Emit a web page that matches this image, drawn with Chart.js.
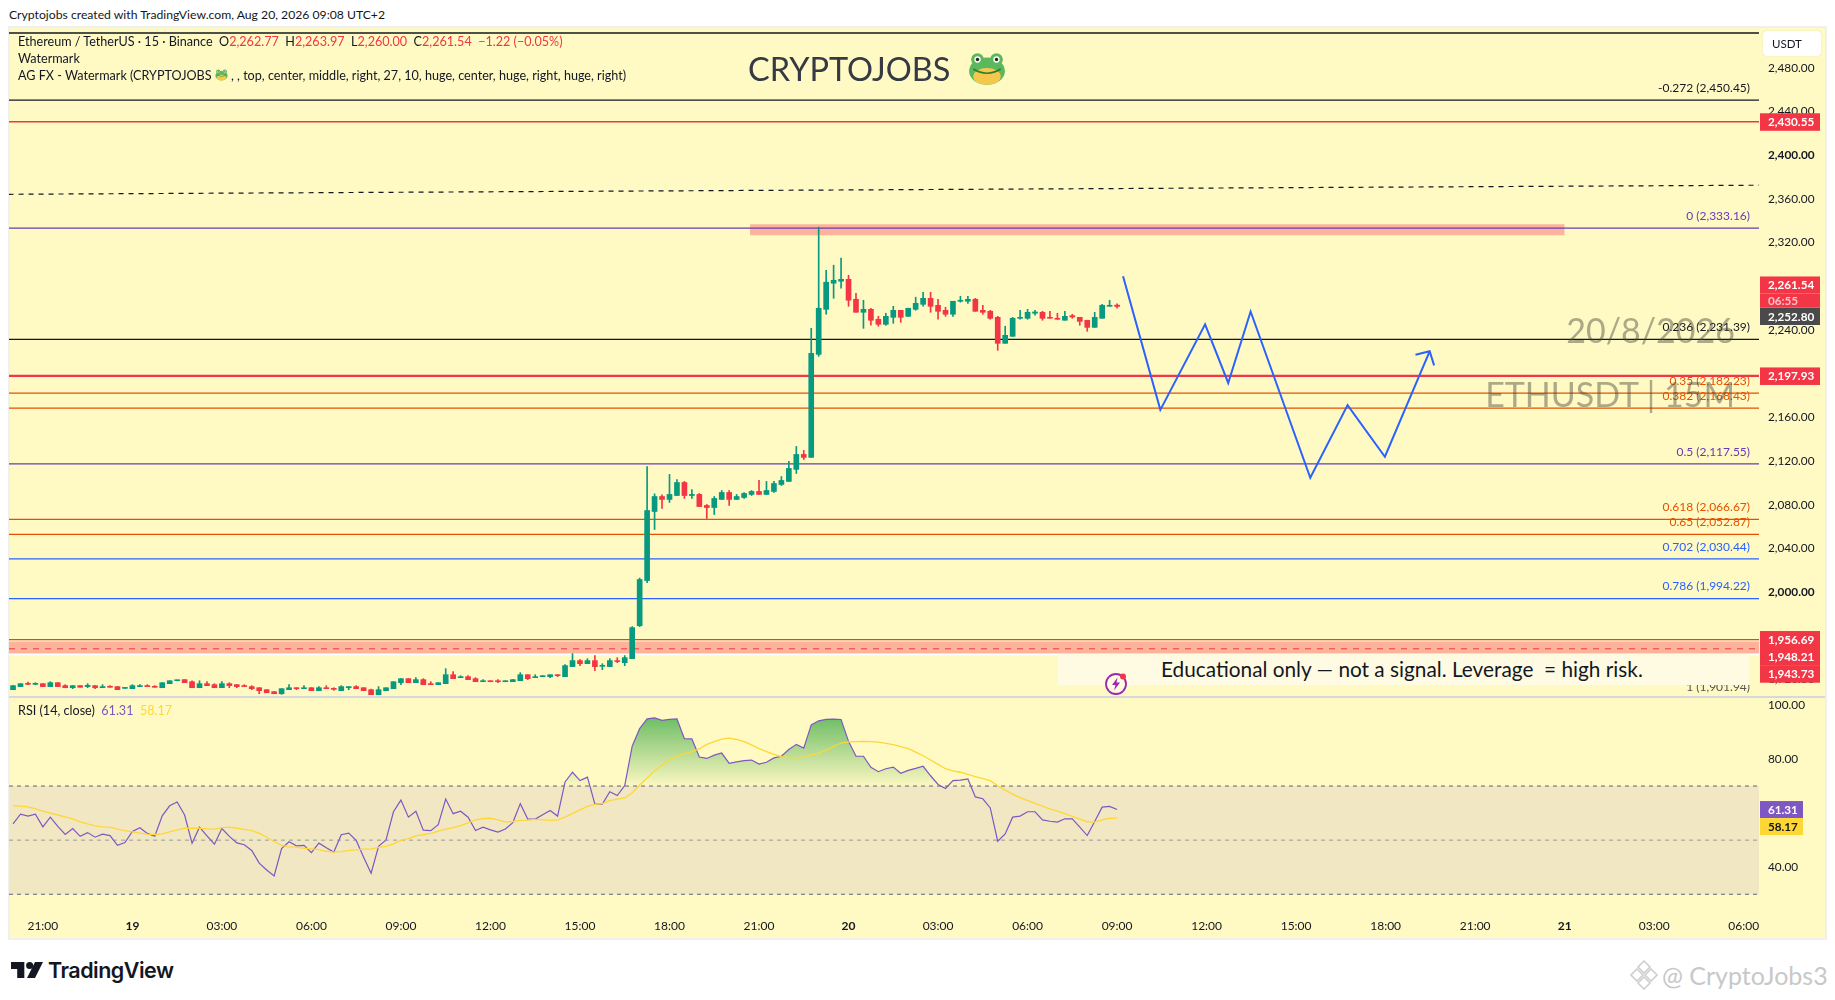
<!DOCTYPE html>
<html>
<head>
<meta charset="utf-8">
<title>ETHUSDT 15M</title>
<script src="https://cdn.jsdelivr.net/npm/chart.js@4"></script>
<style>
body { margin: 0; background: #fff; font-family: Lato, sans-serif; color: #131722; }
#page { position: relative; width: 1835px; height: 1000px; overflow: hidden; }
.abs { position: absolute; white-space: pre; }
#frame { position: absolute; left: 8px; top: 26px; width: 1815px; height: 910px; background: #fff9c4; border: 2px solid #f0f0ee; }
.chart-box { position: absolute; left: 9px; width: 1816px; }
.leg { font-size: 12.6px; left: 18px; line-height: 16px; }
.red { color: #f23645; }
.wm { font-size: 34px; color: rgba(70, 70, 60, 0.45); text-align: right; right: 100px; line-height: 40px; }
</style>
</head>
<body>
<div id="page">
  <svg width="0" height="0" style="position:absolute">
    <symbol id="frog" viewBox="0 0 36 32">
      <ellipse cx="18" cy="18" rx="17" ry="13" fill="#5cb85c"/>
      <circle cx="9" cy="7" r="6" fill="#5cb85c"/><circle cx="27" cy="7" r="6" fill="#5cb85c"/>
      <circle cx="9" cy="7" r="3" fill="#fff"/><circle cx="27" cy="7" r="3" fill="#fff"/>
      <circle cx="9" cy="7" r="1.6" fill="#222"/><circle cx="27" cy="7" r="1.6" fill="#222"/>
      <ellipse cx="18" cy="23" rx="13" ry="8" fill="#f5c84c"/>
      <path d="M5 16 Q18 24 31 16" stroke="#2e7d32" stroke-width="1.4" fill="none"/>
    </symbol>
  </svg>
  <div class="abs" style="left:9px;top:7px;font-size:12.2px;line-height:16px">Cryptojobs created with TradingView.com, Aug 20, 2026 09:08 UTC+2</div>
  <div id="frame"></div>
  <div class="chart-box" style="top:27px;height:670px"><canvas id="priceChart"></canvas></div>
  <div class="chart-box" style="top:697px;height:242px"><canvas id="rsiChart"></canvas></div>
  <div class="abs" style="left:9px;top:696px;width:1816px;height:2px;background:#d6d8de"></div>

  <div class="abs leg" style="top:34px">Ethereum / TetherUS · 15 · Binance  O<span class="red">2,262.77</span>  H<span class="red">2,263.97</span>  L<span class="red">2,260.00</span>  C<span class="red">2,261.54</span>  <span class="red">−1.22 (−0.05%)</span></div>
  <div class="abs leg" style="top:51px">Watermark</div>
  <div class="abs leg" style="top:68px">AG FX - Watermark (CRYPTOJOBS <svg width="13" height="12" style="vertical-align:-1px"><use href="#frog"/></svg> , , top, center, middle, right, 27, 10, huge, center, huge, right, huge, right)</div>

  <div class="abs" style="left:748px;top:48px;font-size:32.5px;line-height:42px;color:#363a45">CRYPTOJOBS</div>
  <svg class="abs" style="left:968px;top:51px" width="38" height="36"><use href="#frog"/></svg>

  <div class="abs wm" style="top:310px">20/8/2026</div>
  <div class="abs wm" style="top:374px">ETHUSDT | 15M</div>

  <div class="abs" style="left:1058px;top:654px;width:691px;height:31px;background:#fffbe3"></div>
  <div class="abs" style="left:1161px;top:655px;font-size:20.8px;line-height:28px;color:#131722">Educational only — not a signal. Leverage  = high risk.</div>
  <svg class="abs" style="left:1103px;top:670px" width="26" height="28" viewBox="0 0 26 28">
    <circle cx="13" cy="14" r="10" fill="#fffbe3" stroke="#9c27b0" stroke-width="1.8"/>
    <path d="M14.5 7.5 L9 15 H12.5 L11 20.5 L17 12.5 H13.5 Z" fill="#9c27b0"/>
    <circle cx="20" cy="6.5" r="3" fill="#f23645"/>
  </svg>

  <div class="abs" style="left:1763px;top:31px;width:58px;height:25px;background:#fff;border-radius:4px;font-size:11.5px;line-height:25px;text-indent:9px;box-shadow:0 0 1px #ccc">USDT</div>

  <svg class="abs" style="left:11px;top:961px" width="32" height="18" viewBox="0 0 36 20">
    <path d="M0 1 H15 V19 H7 V9 H0 Z" fill="#131722"/>
    <circle cx="21" cy="5" r="4" fill="#131722"/>
    <path d="M27 1 H36 L27 19 H18 Z" fill="#131722"/>
  </svg>
  <div class="abs" style="left:48px;top:956px;font-size:21.5px;line-height:28px;font-family:Inter,sans-serif;font-weight:600;letter-spacing:-0.5px">TradingView</div>

  <svg class="abs" style="left:1630px;top:960px" width="28" height="30" viewBox="0 0 28 30" fill="none" stroke="#cfcfcf" stroke-width="1.6">
    <path d="M14 1 L20 7 L14 13 L8 7 Z"/><path d="M7 9 L13 15 L7 21 L1 15 Z"/><path d="M21 9 L27 15 L21 21 L15 15 Z"/><path d="M14 17 L20 23 L14 29 L8 23 Z"/>
  </svg>
  <div class="abs" style="left:1662px;top:960px;font-size:25px;line-height:30px;color:#c8c8c8">@ CryptoJobs3</div>
  <div class="abs" style="left:18px;top:703px;font-size:12.6px;line-height:16px">RSI (14, close)  <span style="color:#7e57c2">61.31</span>  <span style="color:#fdd835">58.17</span></div>
</div>

<script>
const FONT = 'Lato, sans-serif';

// velas de 15 min, da esquerda para a direita (ultima = 09:00 do dia 20)
const opens = [
  1910.8, 1913.6, 1916.6, 1915.7, 1916.3, 1913.6, 1917.2, 1914.5, 1912.6, 1914.5,
  1913.6, 1914.5, 1912.6, 1913.6, 1913.6, 1912, 1911.7, 1913.6, 1914.5, 1913.6,
  1912.6, 1916.3, 1919, 1920, 1918.1, 1912.6, 1916.3, 1915.4, 1912.6, 1916.3,
  1915.4, 1914.5, 1913.6, 1912.6, 1910.8, 1909, 1907.1, 1910.8, 1912.6, 1911.7,
  1912.6, 1909.9, 1912.6, 1912, 1909.9, 1912.6, 1913.6, 1912.6, 1910.8, 1906.2,
  1909.9, 1911.7, 1917.2, 1920.9, 1917.2, 1920, 1916.3, 1915.4, 1916.3, 1924.5,
  1921.8, 1922.7, 1920.9, 1918.1, 1919, 1919, 1918.1, 1918.1, 1919, 1924.5,
  1921.8, 1922.7, 1922.7, 1924.5, 1922.7, 1931.9, 1937.4, 1934.6, 1937.4, 1932.2,
  1931.9, 1937.4, 1935.5, 1939.2, 1969.4, 2010.7, 2073.9, 2087.6, 2084.9, 2088.5,
  2100.4, 2088.5, 2089.5, 2079.4, 2077.5, 2084.9, 2091.3, 2084.9, 2086.7, 2089.5,
  2092.2, 2089.5, 2092.2, 2098.6, 2101.4, 2112.4, 2126.1, 2123.4, 2217.7, 2258.9,
  2282.8, 2284.6, 2286.4, 2268.1, 2256.2, 2258.9, 2249.8, 2245.2, 2251.6, 2258,
  2252.5, 2258.9, 2263.5, 2269, 2262.6, 2258, 2254.4, 2266.3, 2266.3, 2268.1,
  2258, 2257.1, 2251.6, 2227.8, 2234.2, 2250.7, 2250.7, 2255.3, 2256.2, 2251.6,
  2250.7, 2248.9, 2253.1, 2251.6, 2248.9, 2242.4, 2250.7, 2261.7, 2262.77
];
const highs = [
  1914.5, 1916.3, 1917.8, 1917.2, 1916.3, 1918.1, 1917.2, 1915.4, 1914.5, 1914.5,
  1916.3, 1914.5, 1915.4, 1914.5, 1913.6, 1912.6, 1915.4, 1915.4, 1915.4, 1914.5,
  1917.2, 1919, 1919.6, 1920, 1919, 1919, 1918.1, 1916.3, 1918.1, 1917.2,
  1915.4, 1915.4, 1914.5, 1912.6, 1910.8, 1909, 1911.7, 1915.4, 1912.6, 1914.5,
  1912.6, 1913.6, 1914.5, 1912.6, 1914.5, 1913.6, 1914.5, 1912.6, 1911.4, 1913.6,
  1912.6, 1918.1, 1920.9, 1920.9, 1921.8, 1920.9, 1918.1, 1917.2, 1930, 1927.3,
  1923.6, 1923.6, 1921.8, 1920, 1919, 1920, 1919, 1920, 1926.4, 1924.5,
  1924.5, 1923.6, 1924.5, 1924.5, 1933.7, 1943.8, 1938.3, 1939.2, 1942, 1934.6,
  1939.2, 1940.1, 1942, 1968.5, 2013, 2115.1, 2090, 2089.2, 2107.8, 2103.2,
  2101.4, 2094, 2090.4, 2080.3, 2087.6, 2093.1, 2093.1, 2089.5, 2091.3, 2093.1,
  2102.3, 2101.4, 2101.4, 2105.9, 2119.7, 2133.4, 2129.8, 2241.5, 2334.1, 2294.7,
  2299.3, 2305.7, 2290.1, 2273.6, 2267.2, 2259.9, 2252.5, 2255.3, 2261.7, 2258,
  2259.9, 2270, 2274.5, 2274.5, 2268.1, 2260.8, 2266.3, 2270.9, 2270.9, 2269,
  2262.6, 2258, 2252.5, 2243.4, 2251.6, 2258, 2258.9, 2258, 2257.1, 2257.1,
  2255.3, 2257.1, 2254.4, 2251.6, 2248.9, 2256.2, 2263.5, 2267.2, 2263.97
];
const lows = [
  1910.8, 1913.6, 1915.4, 1915.4, 1913.6, 1913.6, 1913.6, 1912.6, 1911.7, 1913,
  1912.6, 1911.7, 1912.6, 1913, 1910.8, 1912, 1911.7, 1913.6, 1913.6, 1913,
  1912.6, 1916.3, 1919, 1917.2, 1912.6, 1912.6, 1914.5, 1912.6, 1912.6, 1912.6,
  1912.6, 1913.6, 1910.8, 1907.1, 1908, 1907.1, 1906.5, 1910.8, 1910.8, 1911.7,
  1909.9, 1909.9, 1911.7, 1910.2, 1909.9, 1910.8, 1911.7, 1909.9, 1906.2, 1906.2,
  1909.9, 1911.7, 1915.4, 1917.2, 1917.2, 1915.4, 1915.4, 1915.4, 1916.3, 1920.9,
  1921.8, 1920, 1918.1, 1918.1, 1918.1, 1917.2, 1918.1, 1918.1, 1919, 1920,
  1921.8, 1922.7, 1921.8, 1922.7, 1922.7, 1931.9, 1932.8, 1934.6, 1928.2, 1929.1,
  1931.9, 1935.5, 1932.8, 1939.2, 1968.5, 2008.8, 2057.4, 2076.6, 2082.1, 2088.5,
  2085.8, 2085.8, 2078.4, 2067.5, 2071.1, 2084.9, 2079.4, 2084.9, 2085.8, 2088.5,
  2089.5, 2089.5, 2091.3, 2097.7, 2101.4, 2108.7, 2121.5, 2123.4, 2215.9, 2254.4,
  2269, 2278.2, 2261.7, 2256.2, 2241.5, 2244.3, 2243.4, 2244.3, 2246.1, 2247,
  2252.5, 2258, 2261.7, 2256.2, 2249.8, 2252.5, 2252.5, 2265.4, 2264.4, 2257.1,
  2254.4, 2249.8, 2221.4, 2227.8, 2234.2, 2249.8, 2249.8, 2253.5, 2248.9, 2250.7,
  2249.8, 2248.9, 2250.7, 2244.3, 2238.8, 2242.4, 2250.7, 2261.7, 2260
];
const closes = [
  1914.5, 1916.3, 1915.7, 1916.6, 1913.6, 1917.2, 1913.6, 1912.6, 1914.5, 1913,
  1914.8, 1912.6, 1913.6, 1913, 1910.8, 1912.6, 1914.5, 1914.5, 1913.6, 1913,
  1917.2, 1919, 1919.6, 1917.2, 1912.6, 1916.3, 1914.5, 1912.6, 1916.3, 1914.5,
  1913.6, 1913.6, 1911.7, 1909.9, 1908, 1907.1, 1911.7, 1912.6, 1911.7, 1912.6,
  1909.9, 1912.6, 1911.7, 1911.1, 1913.6, 1913.6, 1911.7, 1909.9, 1906.2, 1910.8,
  1912.6, 1918.1, 1920.9, 1917.2, 1920, 1915.4, 1915.4, 1917.2, 1924.5, 1920.9,
  1922.7, 1920, 1918.1, 1919, 1918.1, 1918.1, 1919, 1920, 1924.5, 1920.9,
  1922.7, 1923.6, 1924.5, 1923.6, 1932.8, 1937.4, 1934.6, 1937.4, 1931.9, 1933.1,
  1937.4, 1936.5, 1940.1, 1967.6, 2011.6, 2074.8, 2087.6, 2084.9, 2089.5, 2100.4,
  2088.5, 2089.5, 2078.4, 2077.5, 2085.8, 2091.3, 2084.9, 2087.6, 2090.4, 2092.2,
  2089.5, 2093.1, 2099.5, 2102.3, 2113.3, 2126.1, 2123.4, 2218.6, 2259.9, 2283.7,
  2285.5, 2286.4, 2267.2, 2256.2, 2258.9, 2248.9, 2245.2, 2252.5, 2258, 2251.6,
  2259.9, 2264.4, 2269, 2261.7, 2257.1, 2254.4, 2266.3, 2267.2, 2268.1, 2257.1,
  2256.2, 2250.7, 2227.8, 2235.1, 2250.7, 2251.6, 2256.2, 2256.5, 2250.7, 2250.7,
  2249.8, 2252.5, 2251.9, 2247.9, 2242.4, 2251.6, 2262.6, 2262.6, 2261.54
];

const rsiValues = [
  56, 59.6, 58.9, 59.6, 54.9, 58.5, 55.1, 52.1, 54.3, 51.4,
  52.8, 51.1, 52.2, 51.7, 48.1, 49.1, 53.2, 54.6, 52.5, 51.5,
  59, 62.7, 64.1, 59.3, 48.9, 54.8, 51.6, 48.5, 54.3, 51.4,
  49, 48.3, 46.2, 41.5, 39, 36.8, 46.9, 49.4, 47.9, 48.1,
  45.4, 48.9, 47.2, 45.6, 52, 52.6, 49.9, 43.7, 37.8, 47.7,
  50.1, 60.5, 64.8, 58.5, 60.7, 53.7, 53.5, 55.7, 65.2, 59.8,
  60.7, 58.5, 53.6, 54.8, 53.8, 53, 54.1, 56.5, 63.5, 57.8,
  57.8, 59.4, 61, 58.9, 71.5, 75.1, 72, 73.3, 63.3, 63.3,
  67.9, 66.5, 70.2, 84.7, 91.2, 94.8, 95.2, 94.3, 94.6, 94.8,
  87.5, 87.4, 80.7, 80.2, 81.4, 82.2, 78.4, 78.9, 79.4, 79.6,
  78.1, 78.8, 80.4, 81, 83.5, 85.4, 84, 92.6, 94.1, 94.6,
  94.7, 94.6, 86.5, 81, 81, 76.9, 75.3, 76.4, 77, 74.7,
  75.8, 76.5, 77.3, 73.8, 70.6, 69.1, 72, 72.2, 72.6, 66,
  65.3, 61.9, 49.6, 52.3, 58.5, 58.9, 60.5, 60.5, 57.5, 57,
  56.7, 57.9, 57.9, 54.8, 51.7, 56.9, 62.2, 62.5, 61.31
];
const rsiMa = [
  62.7, 62.6, 62.3, 61.6, 60.7, 60, 59.3, 58.6, 57.9, 56.8,
  56, 55.3, 54.9, 54.8, 54.1, 53.5, 53.1, 52.6, 52.2, 52.1,
  52.3, 53.1, 53.8, 54.4, 54.4, 54.4, 54.2, 54.1, 54.6, 54.8,
  54.4, 54, 53.5, 52.6, 51.1, 49.5, 48.1, 47.5, 47.4, 47,
  46.8, 46.5, 45.9, 45.6, 45.8, 46.2, 46.4, 46.7, 46.7, 47.3,
  47.7, 48.6, 49.9, 50.6, 51.6, 52, 52.5, 53.3, 54.1, 54.6,
  55.4, 56.4, 57.5, 58, 58.1, 57.5, 56.7, 56.9, 57.3, 57.4,
  57.7, 57.5, 57.3, 57.5, 58.5, 59.9, 61.2, 62.5, 63.2, 63.5,
  64.6, 65.2, 65.6, 67.5, 70.4, 73, 75.6, 77.8, 79.8, 81,
  82, 82.7, 83.7, 85.4, 86.4, 87.3, 87.7, 87.2, 86.4, 85.2,
  83.8, 82.7, 81.7, 80.9, 80.5, 80.4, 80.7, 81.5, 82.2, 83.3,
  84.6, 85.9, 86.3, 86.4, 86.5, 86.4, 86.2, 85.8, 85.3, 84.6,
  83.8, 82.5, 81.2, 79.6, 78, 76.4, 75.6, 75.1, 74.3, 73.5,
  72.7, 72, 70.1, 68.5, 67, 65.7, 64.6, 63.6, 62.6, 61.6,
  60.7, 59.8, 58.8, 57.8, 56.8, 56.7, 57.5, 58.1, 58.17
];

const timeTickBars = [4, 16, 28, 40, 52, 64, 76, 88, 100, 112, 124, 136, 148, 160, 172, 184, 196, 208, 220, 232];
const timeTickLabels = ['21:00', '19', '03:00', '06:00', '09:00', '12:00', '15:00', '18:00', '21:00', '20', '03:00', '06:00', '09:00', '12:00', '15:00', '18:00', '21:00', '21', '03:00', '06:00'];
const priceTicks = [2480, 2440, 2400, 2360, 2320, 2240, 2160, 2120, 2080, 2040, 2000, 1960, 1920];
const rsiTicks = [100, 80, 60, 40];

// niveis de fibonacci: razao, preco, cor
const fibRatios = ['-0.272', '0', '0.236', '0.35', '0.382', '0.5', '0.618', '0.65', '0.702', '0.786', '1'];
const fibPrices = [2450.45, 2333.16, 2231.39, 2182.23, 2168.43, 2117.55, 2066.67, 2052.87, 2030.44, 1994.22, 1901.94];
const fibColors = ['#131722', '#673ab7', '#131722', '#e65100', '#e65100', '#673ab7', '#e65100', '#e65100', '#2962ff', '#2962ff', '#555555'];

const topLinePrice = 2511.8;
const redLevels = [2430.55, 2197.93, 1956.69];
const trendBars = [-0.6, 234.1];
const trendPrices = [2364.2, 2372.5];
const forecastBars = [148.8, 153.8, 159.8, 162.9, 165.9, 173.9, 178.9, 183.9, 189.9];
const forecastPrices = [2289.1, 2166.9, 2245.2, 2191.5, 2256.9, 2104.7, 2171.2, 2124, 2220.5];
const arrowBars = [188, 189.9, 190.5];
const arrowPrices = [2217.3, 2220.5, 2207.6];

// limites dos eixos
const barMin = -0.54, barMax = 234.05;
const priceMin = 1904.1, priceMax = 2517.3;
const rsiMin = 24.2, rsiMax = 102.9;

const GREEN = '#089981', RED = '#f23645';
const AXIS_WIDTH = 66;
const LEVEL_WIDTH = 1.3;

function hLine(y, color, width, dash, from, to) {
    return {
        type: 'line',
        data: [{ x: from ?? barMin, y: y }, { x: to ?? barMax, y: y }],
        borderColor: color,
        borderWidth: width,
        borderDash: dash || [],
        pointRadius: 0,
        order: 5
    };
}

function zone(top, bottom, color, from, to) {
    return {
        type: 'line',
        data: [{ x: from ?? barMin, y: top }, { x: to ?? barMax, y: top }],
        borderWidth: 0,
        backgroundColor: color,
        fill: { target: { value: bottom } },
        pointRadius: 0,
        order: 6
    };
}

function path(xs, ys, color, width, order, dash) {
    return {
        type: 'line',
        data: xs.map((x, i) => ({ x: x, y: ys[i] })),
        borderColor: color,
        borderWidth: width,
        borderDash: dash || [],
        pointRadius: 0,
        tension: 0,
        order: order
    };
}

const candleColors = closes.map((c, i) => c >= opens[i] ? GREEN : RED);

const wicks = {
    type: 'bar',
    data: highs.map((h, i) => ({ x: i, y: [lows[i], h] })),
    backgroundColor: candleColors,
    barThickness: 1,
    grouped: false,
    order: 2
};
const bodies = {
    type: 'bar',
    data: opens.map((o, i) => ({ x: i, y: [Math.min(o, closes[i]), Math.max(o, closes[i])] })),
    backgroundColor: candleColors,
    barThickness: 5,
    minBarLength: 1,
    grouped: false,
    order: 1
};

const priceDatasets = [
    zone(2336.8, 2326.7, '#fdb399', 98.8, 208),
    zone(1954.8, 1944, '#fdb399'),
    hLine(1943, '#ffffff', 1.5),
    hLine(topLinePrice, '#131722', LEVEL_WIDTH),
    hLine(1948.21, RED, 1, [6, 6]),
    path(trendBars, trendPrices, '#131722', 1.2, 5, [5, 5]),
    wicks,
    bodies,
    path(forecastBars, forecastPrices, '#2962ff', 2, 0),
    path(arrowBars, arrowPrices, '#2962ff', 2, 0)
];
redLevels.forEach((p, i) => priceDatasets.push(hLine(p, RED, [1.6, 2.2, 1.2][i])));
fibPrices.slice(0, 10).forEach((p, i) => priceDatasets.push(hLine(p, fibColors[i], LEVEL_WIDTH)));

// etiquetas do eixo de preco: valor, deslocamento, cor de fundo
const tagValues = [2430.55, 2197.93, 2252.80, 1956.69, 1948.21, 1943.73];
const tagShift = [0, 0, 0, 0, 7.7, 20];
const tagColors = [RED, RED, '#4a4a4a', RED, RED, RED];

function money(v) {
    return v.toLocaleString('en-US', { minimumFractionDigits: 2, maximumFractionDigits: 2 });
}

// sem margem extra dos rotulos: a area do grafico vai de ponta a ponta
function noPadding(s) {
    s.paddingTop = 0;
    s.paddingBottom = 0;
    s.paddingLeft = 0;
    s.paddingRight = 0;
}

const fibLabels = {
    id: 'fibLabels',
    afterDatasetsDraw(chart) {
        const { ctx, scales: { y } } = chart;
        ctx.save();
        ctx.font = '12px ' + FONT;
        ctx.textAlign = 'right';
        ctx.textBaseline = 'middle';
        fibPrices.forEach((p, i) => {
            ctx.fillStyle = fibColors[i];
            ctx.fillText(fibRatios[i] + ' (' + money(p) + ')', chart.chartArea.right - 9, y.getPixelForValue(p) - 12);
        });
        ctx.restore();
    }
};

function drawTag(ctx, left, top, width, height, bg, fg, text) {
    ctx.fillStyle = bg;
    ctx.fillRect(left, top, width, height);
    ctx.fillStyle = fg;
    ctx.fillText(text, left + 8, top + height / 2 + 0.5);
}

const priceTags = {
    id: 'priceTags',
    afterDraw(chart) {
        const { ctx, scales: { y } } = chart;
        const left = chart.chartArea.right + 1;
        ctx.save();
        ctx.font = 'bold 11.7px ' + FONT;
        ctx.textAlign = 'left';
        ctx.textBaseline = 'middle';
        tagValues.forEach((v, i) => {
            drawTag(ctx, left, y.getPixelForValue(v) + tagShift[i] - 8.5, 60, 17.5, tagColors[i], '#fff', money(v));
        });
        // preco atual com contagem regressiva, empurrado para cima da etiqueta cinza
        const py = y.getPixelForValue(2252.80) - 8.5;
        drawTag(ctx, left, py - 31, 60, 17, RED, '#fff', money(2261.54));
        drawTag(ctx, left, py - 14, 60, 14, RED, '#ffc1c7', '06:55');
        ctx.restore();
    }
};

new Chart(document.getElementById('priceChart'), {
    data: { datasets: priceDatasets },
    plugins: [fibLabels, priceTags],
    options: {
        responsive: true,
        maintainAspectRatio: false,
        animation: false,
        layout: { padding: 0 },
        plugins: { legend: { display: false }, tooltip: { enabled: false } },
        scales: {
            x: { type: 'linear', min: barMin, max: barMax, display: false, offset: false },
            y: {
                position: 'right',
                min: priceMin,
                max: priceMax,
                afterFit: s => { s.width = AXIS_WIDTH; noPadding(s); },
                afterBuildTicks: s => { s.ticks = priceTicks.map(v => ({ value: v })); },
                border: { display: false },
                grid: { display: false },
                ticks: {
                    padding: 1,
                    color: '#131722',
                    autoSkip: false,
                    font: c => ({ family: FONT, size: 11.8, weight: c.tick && c.tick.value % 400 === 0 ? 'bold' : 'normal' }),
                    callback: v => money(v)
                }
            }
        }
    }
});

const rsiTags = {
    id: 'rsiTags',
    afterDraw(chart) {
        const { ctx, scales: { y } } = chart;
        const left = chart.chartArea.right + 1;
        ctx.save();
        ctx.font = 'bold 11.7px ' + FONT;
        ctx.textAlign = 'left';
        ctx.textBaseline = 'middle';
        drawTag(ctx, left, y.getPixelForValue(61.31) - 8.5, 43, 17, '#7e57c2', '#fff', '61.31');
        drawTag(ctx, left, y.getPixelForValue(61.31) + 8.5, 43, 17, '#fdd835', '#131722', '58.17');
        ctx.restore();
    }
};

function isDayTick(c) {
    if (!c.tick) return false;
    const label = timeTickLabels[timeTickBars.indexOf(c.tick.value)];
    return !!label && label.length < 3;
}

new Chart(document.getElementById('rsiChart'), {
    data: {
        datasets: [
            zone(70, 30, '#f2e7c3'),
            hLine(70, '#787b86', 1.2, [4, 4]),
            hLine(50, '#a8a8a0', 1.2, [4, 4]),
            hLine(30, '#787b86', 1.2, [4, 4]),
            {
                type: 'line',
                data: rsiValues.map((v, i) => ({ x: i, y: v })),
                borderColor: '#7e57c2',
                borderWidth: 1.2,
                pointRadius: 0,
                tension: 0,
                order: 2,
                fill: { target: { value: 70 }, below: 'rgba(0,0,0,0)' },
                backgroundColor: c => {
                    const s = c.chart.scales.y;
                    if (!c.chart.chartArea || !s) return 'rgba(0,0,0,0)';
                    const g = c.chart.ctx.createLinearGradient(0, s.getPixelForValue(95), 0, s.getPixelForValue(70));
                    g.addColorStop(0, 'rgba(76,175,80,0.8)');
                    g.addColorStop(1, 'rgba(76,175,80,0.02)');
                    return g;
                }
            },
            path(rsiMa.map((v, i) => i), rsiMa, '#fdd835', 1.3, 1)
        ]
    },
    plugins: [rsiTags],
    options: {
        responsive: true,
        maintainAspectRatio: false,
        animation: false,
        layout: { padding: 0 },
        plugins: { legend: { display: false }, tooltip: { enabled: false } },
        scales: {
            x: {
                type: 'linear',
                min: barMin,
                max: barMax,
                afterBuildTicks: s => { s.ticks = timeTickBars.map(v => ({ value: v })); },
                afterFit: s => { s.height = 29; noPadding(s); },
                border: { display: false },
                grid: { display: false },
                ticks: {
                    autoSkip: false,
                    maxRotation: 0,
                    padding: 1,
                    color: '#131722',
                    font: c => ({ family: FONT, size: 12, weight: isDayTick(c) ? 'bold' : 'normal' }),
                    callback: v => timeTickLabels[timeTickBars.indexOf(v)]
                }
            },
            y: {
                position: 'right',
                min: rsiMin,
                max: rsiMax,
                afterFit: s => { s.width = AXIS_WIDTH; noPadding(s); },
                afterBuildTicks: s => { s.ticks = rsiTicks.map(v => ({ value: v })); },
                border: { display: false },
                grid: { display: false },
                ticks: {
                    padding: 1,
                    color: '#131722',
                    autoSkip: false,
                    font: { family: FONT, size: 11.8 },
                    callback: v => money(v)
                }
            }
        }
    }
});
</script>
</body>
</html>
